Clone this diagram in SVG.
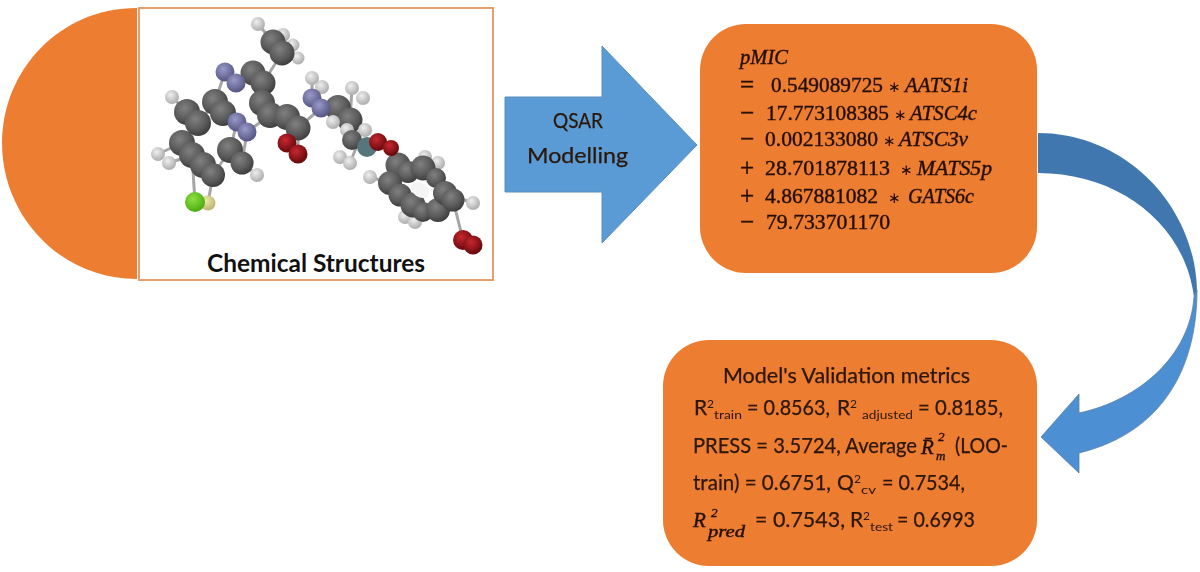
<svg xmlns="http://www.w3.org/2000/svg" width="1200" height="572" viewBox="0 0 1200 572">
<defs>
<radialGradient id="gc" cx="40%" cy="35%" r="70%"><stop offset="0" stop-color="#808080"/><stop offset="0.6" stop-color="#5a5a5a"/><stop offset="1" stop-color="#383838"/></radialGradient>
<radialGradient id="gh" cx="40%" cy="35%" r="70%"><stop offset="0" stop-color="#eeeeee"/><stop offset="1" stop-color="#a8a8a8"/></radialGradient>
<radialGradient id="gn" cx="40%" cy="35%" r="70%"><stop offset="0" stop-color="#9a9ac8"/><stop offset="1" stop-color="#50507f"/></radialGradient>
<radialGradient id="go" cx="40%" cy="35%" r="70%"><stop offset="0" stop-color="#c82830"/><stop offset="1" stop-color="#5e0508"/></radialGradient>
<radialGradient id="gl" cx="40%" cy="35%" r="70%"><stop offset="0" stop-color="#8fe040"/><stop offset="1" stop-color="#45a810"/></radialGradient>
<radialGradient id="gf" cx="40%" cy="35%" r="70%"><stop offset="0" stop-color="#eee9a8"/><stop offset="1" stop-color="#b8b070"/></radialGradient>
<filter id="soft" x="-5%" y="-5%" width="110%" height="110%"><feGaussianBlur stdDeviation="0.6"/></filter>
<filter id="txt" x="-5%" y="-20%" width="110%" height="140%"><feGaussianBlur stdDeviation="0.4"/></filter>
</defs>
<style>
.o{fill:#ed7d31}
.t{font-family:"Lato","Liberation Sans",sans-serif;fill:#2a1608;stroke:#2a1608;stroke-width:.25px;font-size:21px}
.m{font-family:"Liberation Serif",serif;fill:#241004;stroke:#241004;stroke-width:.4px;font-size:20px}
.op{font-family:"Liberation Serif",serif;fill:#241004;stroke:#241004;stroke-width:.5px;font-size:25px}
.st{font-family:"Liberation Serif",serif;fill:#241004;font-size:15px}
.i{font-style:italic}
.t.s{font-size:12px;stroke-width:0}
.m.s{font-size:13px}
.m.p{font-size:16px}
.m.r{font-size:21px}
.b{stroke:#a6a6a6;stroke-width:3;fill:none}
.C{fill:url(#gc)}.H{fill:url(#gh)}.N{fill:url(#gn)}.O{fill:url(#go)}.L{fill:url(#gl)}.F{fill:url(#gf)}
</style>
<rect width="1200" height="572" fill="#ffffff"/>

<g id="connectors">
<path id="qsar-arrow" d="M505,97H602V46L697,145L602,243V192H505Z" fill="#5b9bd5" stroke="#5a8fc0" stroke-width="1"/>
<path id="curve-upper" d="M1038,133C1125,133 1195,205 1197,290L1194,297C1185,225 1120,173 1038,173Z" fill="#3f77ae"/>
<path id="curve-lower" d="M1197,290C1197,365 1165,432 1079,453V473L1041,437L1079,394V413C1140,400 1190,355 1194,297Z" fill="#4c8fd2" stroke="#5a7fa5" stroke-width="0.8"/>
</g>

<g id="qsar-label" filter="url(#txt)">
<text class="t" x="553" y="128" textLength="50" lengthAdjust="spacingAndGlyphs">QSAR</text>
<text class="t" x="527" y="163" textLength="101" lengthAdjust="spacingAndGlyphs">Modelling</text>
</g>

<g id="node-half">
<path class="o" d="M137,8C60,8 2,70 2,143S60,279 137,279Z"/>
</g>

<g id="node-chemical">
<rect x="139" y="8" width="354" height="272" fill="#ffffff" stroke="#e3a06c" stroke-width="2"/>
<g id="molecule" filter="url(#soft)">
<path class="b" d="M258,24L273,42M282,53L263,83M225,72L215,102M236,83L253,73M263,83L262,103M215,102L237,122M270,115L247,132M270,115L287,117M298,128L321,108M298,128L298,154M321,108L338,108M350,120L360,138M367,147L378,142M391,148L398,165M198,123L215,102M198,123L182,143M213,175L230,150M237,122L230,150M247,132L242,163M192,155L195,202M213,175L208,203M453,200L463,240M445,193L473,203M312,78L312,98M352,88L350,120M347,130L360,138M350,163L360,138M187,112L172,97M182,143L158,154M192,155L169,163M242,163L257,175M390,183L370,177M413,205L405,217M423,168L438,163"/>
<g id="atoms-h">
<circle class="H" cx="258" cy="24" r="7"/><circle class="H" cx="283" cy="35" r="7"/><circle class="H" cx="293" cy="45" r="6.5"/><circle class="H" cx="298" cy="58" r="6.5"/>
<circle class="H" cx="172" cy="97" r="7"/><circle class="H" cx="158" cy="154" r="7"/><circle class="H" cx="169" cy="163" r="7"/><circle class="H" cx="247" cy="162" r="6.5"/><circle class="H" cx="257" cy="175" r="7"/>
<circle class="H" cx="312" cy="78" r="7"/><circle class="H" cx="322" cy="87" r="7"/><circle class="H" cx="352" cy="88" r="7"/><circle class="H" cx="363" cy="98" r="7"/>
<circle class="H" cx="340" cy="157" r="7"/><circle class="H" cx="350" cy="163" r="7"/>
<circle class="H" cx="425" cy="157" r="7"/><circle class="H" cx="438" cy="163" r="7"/><circle class="H" cx="370" cy="177" r="7"/><circle class="H" cx="405" cy="217" r="7"/><circle class="H" cx="415" cy="222" r="7"/><circle class="H" cx="473" cy="203" r="7"/>
</g>
<g id="atoms-c">
<circle class="C" cx="273" cy="42" r="12.5"/><circle class="C" cx="282" cy="53" r="12.5"/>
<circle class="C" cx="253" cy="73" r="12.5"/><circle class="C" cx="263" cy="83" r="12.5"/>
<circle class="C" cx="215" cy="102" r="13"/><circle class="C" cx="223" cy="113" r="13"/>
<circle class="C" cx="262" cy="103" r="13"/><circle class="C" cx="270" cy="115" r="13"/>
<circle class="C" cx="287" cy="117" r="13"/><circle class="C" cx="298" cy="128" r="12.5"/>
<circle class="C" cx="187" cy="112" r="13"/><circle class="C" cx="198" cy="123" r="13"/>
<circle class="C" cx="182" cy="143" r="13"/><circle class="C" cx="192" cy="155" r="13"/><circle class="C" cx="203" cy="165" r="13"/><circle class="C" cx="213" cy="175" r="12"/>
<circle class="C" cx="230" cy="150" r="13"/><circle class="C" cx="242" cy="163" r="11.5"/>
<circle class="C" cx="338" cy="108" r="13"/><circle class="C" cx="350" cy="120" r="12.5"/>
</g>
<circle class="H" cx="333" cy="122" r="7"/><circle class="H" cx="347" cy="130" r="7"/><circle class="H" cx="365" cy="130" r="7"/>
<circle class="C" cx="352" cy="140" r="10"/><circle fill="#55777c" cx="367" cy="147" r="10"/>
<circle class="C" cx="398" cy="165" r="12.5"/><circle class="C" cx="408" cy="172" r="11"/><circle class="C" cx="423" cy="168" r="12.5"/><circle class="C" cx="436" cy="178" r="10"/>
<circle class="C" cx="390" cy="183" r="12"/><circle class="C" cx="400" cy="195" r="11.5"/><circle class="C" cx="413" cy="205" r="12.5"/><circle class="C" cx="423" cy="212" r="10"/>
<circle class="C" cx="438" cy="210" r="12"/><circle class="C" cx="445" cy="193" r="12"/><circle class="C" cx="453" cy="200" r="11.5"/>
<ellipse fill="#f4f4f4" cx="420" cy="190" rx="10" ry="7" transform="rotate(35 420 190)"/>
<g id="atoms-hetero">
<circle class="N" cx="225" cy="72" r="9.5"/><circle class="N" cx="236" cy="83" r="9.5"/>
<circle class="N" cx="237" cy="122" r="9.5"/><circle class="N" cx="247" cy="132" r="9.5"/>
<circle class="N" cx="312" cy="98" r="9.5"/><circle class="N" cx="321" cy="108" r="9.5"/>
<circle class="O" cx="287" cy="143" r="9.5"/><circle class="O" cx="298" cy="154" r="9.5"/>
<circle class="O" cx="378" cy="142" r="9"/><circle class="O" cx="391" cy="148" r="8"/>
<circle class="O" cx="463" cy="240" r="10"/><circle class="O" cx="473" cy="245" r="9.5"/>
<circle class="F" cx="208" cy="203" r="7.5"/><circle class="L" cx="195" cy="202" r="10"/>
</g>
</g>
<text x="207" y="272" textLength="218" lengthAdjust="spacingAndGlyphs" font-family="Lato,'Liberation Sans',sans-serif" font-weight="700" font-size="24" fill="#111111">Chemical Structures</text>
</g>

<g id="node-equation">
<rect class="o" x="700" y="24" width="337" height="249" rx="46"/>
<g filter="url(#txt)">
<text class="m i" x="740" y="64" textLength="48" lengthAdjust="spacingAndGlyphs">pMIC</text>
<text class="op" x="740" y="93">=</text><text class="m" x="771" y="92" textLength="112" lengthAdjust="spacingAndGlyphs">0.549089725</text><text class="st" x="888" y="92">∗</text><text class="m i" x="905" y="92" textLength="63" lengthAdjust="spacingAndGlyphs">AATS1i</text>
<text class="op" x="740" y="121">−</text><text class="m" x="766" y="120" textLength="123" lengthAdjust="spacingAndGlyphs">17.773108385</text><text class="st" x="894" y="120">∗</text><text class="m i" x="910" y="120" textLength="67" lengthAdjust="spacingAndGlyphs">ATSC4c</text>
<text class="op" x="740" y="147">−</text><text class="m" x="765" y="146" textLength="113" lengthAdjust="spacingAndGlyphs">0.002133080</text><text class="st" x="883" y="146">∗</text><text class="m i" x="899" y="146" textLength="69" lengthAdjust="spacingAndGlyphs">ATSC3v</text>
<text class="op" x="740" y="176">+</text><text class="m" x="765" y="175" textLength="125" lengthAdjust="spacingAndGlyphs">28.701878113</text><text class="st" x="900" y="175">∗</text><text class="m i" x="917" y="175" textLength="75" lengthAdjust="spacingAndGlyphs">MATS5p</text>
<text class="op" x="740" y="204">+</text><text class="m" x="765" y="203" textLength="113" lengthAdjust="spacingAndGlyphs">4.867881082</text><text class="st" x="888" y="203">∗</text><text class="m i" x="908" y="203" textLength="66" lengthAdjust="spacingAndGlyphs">GATS6c</text>
<text class="op" x="740" y="230">−</text><text class="m" x="766" y="229" textLength="124" lengthAdjust="spacingAndGlyphs">79.733701170</text>
</g>
</g>

<g id="node-metrics">
<rect class="o" x="663" y="340" width="374" height="226" rx="46"/>
<g filter="url(#txt)">
<text class="t" x="723" y="383" textLength="247" lengthAdjust="spacingAndGlyphs">Model's Validation metrics</text>
<text class="t" x="694" y="415">R</text><text class="t s" x="707" y="408">2</text><text class="t s" x="714" y="419" textLength="28" lengthAdjust="spacingAndGlyphs">train</text>
<text class="t" x="747" y="415" textLength="83" lengthAdjust="spacingAndGlyphs">= 0.8563,</text>
<text class="t" x="837" y="415">R</text><text class="t s" x="850" y="408">2</text><text class="t s" x="862" y="419" textLength="51" lengthAdjust="spacingAndGlyphs">adjusted</text>
<text class="t" x="918" y="415" textLength="85" lengthAdjust="spacingAndGlyphs">= 0.8185,</text>
<text class="t" x="693" y="453" textLength="224" lengthAdjust="spacingAndGlyphs">PRESS = 3.5724, Average</text>
<text class="m r i" x="921" y="454">R̄</text><text class="m i s" x="938" y="441">2</text><text class="m i s" x="936" y="460">m</text>
<text class="t" x="955" y="453" textLength="53" lengthAdjust="spacingAndGlyphs">(LOO-</text>
<text class="t" x="693" y="490" textLength="138" lengthAdjust="spacingAndGlyphs">train) = 0.6751,</text>
<text class="t" x="837" y="490">Q</text><text class="t s" x="854" y="483">2</text><text class="t s" x="861" y="494" textLength="15" lengthAdjust="spacingAndGlyphs">cv</text>
<text class="t" x="882" y="490" textLength="83" lengthAdjust="spacingAndGlyphs">= 0.7534,</text>
<text class="m r i" x="693" y="527">R</text><text class="m i s" x="711" y="517">2</text><text class="m p i" x="708" y="537" textLength="37" lengthAdjust="spacingAndGlyphs">pred</text>
<text class="t" x="755" y="527" textLength="90" lengthAdjust="spacingAndGlyphs">= 0.7543,</text>
<text class="t" x="850" y="527">R</text><text class="t s" x="863" y="520">2</text><text class="t s" x="870" y="531" textLength="23" lengthAdjust="spacingAndGlyphs">test</text>
<text class="t" x="897" y="527" textLength="78" lengthAdjust="spacingAndGlyphs">= 0.6993</text>
</g>
</g>
</svg>
